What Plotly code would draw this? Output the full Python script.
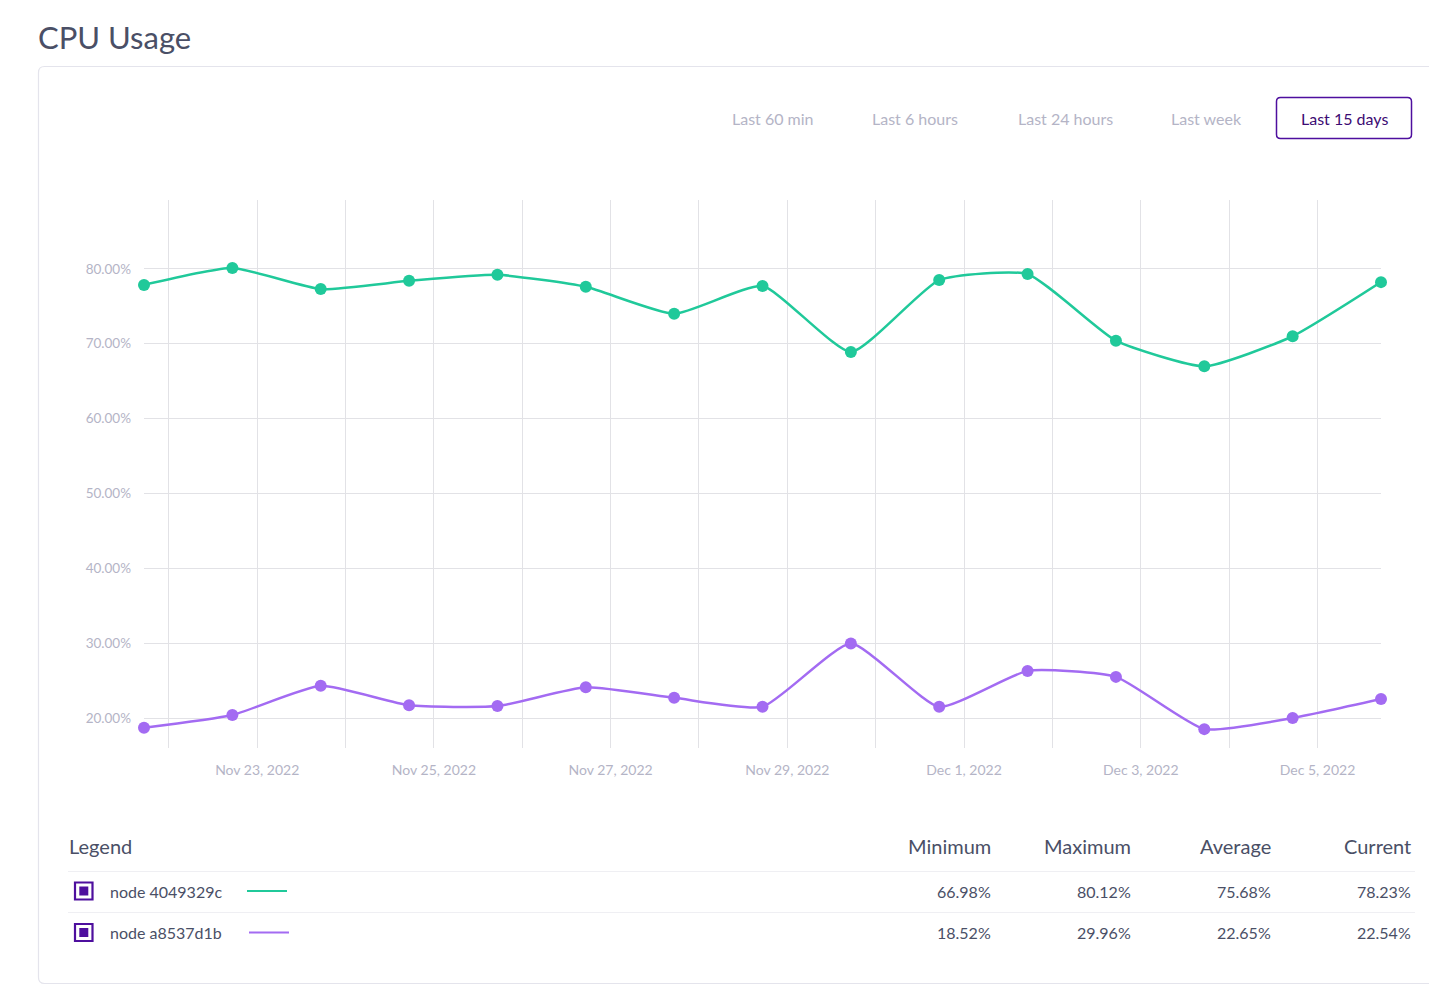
import plotly.graph_objects as go

# ---------------- data ----------------
title_text = "CPU Usage"
range_buttons = ["Last 60 min", "Last 6 hours", "Last 24 hours", "Last week", "Last 15 days"]
active_button = "Last 15 days"

dates = [
    "2022-11-21 17:15", "2022-11-22 17:15", "2022-11-23 17:15", "2022-11-24 17:15",
    "2022-11-25 17:15", "2022-11-26 17:15", "2022-11-27 17:15", "2022-11-28 17:15",
    "2022-11-29 17:15", "2022-11-30 17:15", "2022-12-01 17:15", "2022-12-02 17:15",
    "2022-12-03 17:15", "2022-12-04 17:15", "2022-12-05 17:15",
]
node1_name = "node 4049329c"
node1_values = [77.86, 80.12, 77.3, 78.4, 79.2, 77.6, 74.0, 77.7, 68.9, 78.5, 79.3, 70.4, 66.98, 71.0, 78.23]
node2_name = "node a8537d1b"
node2_values = [18.7, 20.4, 24.3, 21.7, 21.6, 24.1, 22.7, 21.5, 29.96, 21.5, 26.3, 25.5, 18.52, 20.0, 22.54]

legend_title = "Legend"
stat_headers = ["Minimum", "Maximum", "Average", "Current"]
node1_stats = ["66.98%", "80.12%", "75.68%", "78.23%"]
node2_stats = ["18.52%", "29.96%", "22.65%", "22.54%"]

# ---------------- styles ----------------
FONT = "Lato"
GREEN = "#20c99a"
PURPLE = "#a36bf2"
DARK = "#4a4f66"
LIGHT = "#b4b4c6"
DEEP_PURPLE = "#4e0f9e"
GRID = "#e2e2e6"

OFF = 8  # page body margin
W, H = 1437 - OFF, 987 - OFF
L, T = 144 - OFF, 200 - OFF
PW, PH = 1237, 548
R = W - L - PW
B = H - T - PH


def px(x):
    return (x - OFF - L) / PW


def py(y):
    return (T + PH - (y - OFF)) / PH


def P(x, y):
    return f"{px(x):.5f},{py(y):.5f}"


def rounded_rect_path(x0, y0, x1, y1, r):
    return (
        f"M {P(x0 + r, y0)} L {P(x1 - r, y0)} Q {P(x1, y0)} {P(x1, y0 + r)} "
        f"L {P(x1, y1 - r)} Q {P(x1, y1)} {P(x1 - r, y1)} "
        f"L {P(x0 + r, y1)} Q {P(x0, y1)} {P(x0, y1 - r)} "
        f"L {P(x0, y0 + r)} Q {P(x0, y0)} {P(x0 + r, y0)} Z"
    )


fig = go.Figure()
for name, vals, col in [(node1_name, node1_values, GREEN), (node2_name, node2_values, PURPLE)]:
    fig.add_trace(go.Scatter(
        x=dates, y=vals, name=name, mode="lines+markers",
        line=dict(color=col, width=2.5, shape="spline", smoothing=0.5),
        marker=dict(color=col, size=12),
        cliponaxis=False,
    ))

shapes = []
annotations = []

# card border (right edge runs off screen)
card = (
    f"M {P(1460, 66.5)} L {P(44.5, 66.5)} Q {P(38.5, 66.5)} {P(38.5, 72.5)} "
    f"L {P(38.5, 977.5)} Q {P(38.5, 983.5)} {P(44.5, 983.5)} L {P(1460, 983.5)}"
)
shapes.append(dict(type="path", xref="paper", yref="paper", path=card,
                   line=dict(color="#e4e4ec", width=1.2), layer="below"))

# title
annotations.append(dict(text=title_text, x=px(35.5), y=py(36.5), xref="paper", yref="paper",
                        xanchor="left", yanchor="middle", showarrow=False,
                        font=dict(family=FONT, size=31, color=DARK)))

# range buttons
btn_centers = [773, 915, 1065, 1206, 1344]
for lab, cx in zip(range_buttons, btn_centers):
    active = lab == active_button
    annotations.append(dict(text=lab, x=px(cx), y=py(118), xref="paper", yref="paper",
                            xanchor="center", yanchor="middle", showarrow=False,
                            font=dict(family=FONT, size=16, color="#3c0b73" if active else LIGHT)))
    if active:
        shapes.append(dict(type="path", xref="paper", yref="paper",
                           path=rounded_rect_path(1276.5, 97.5, 1411.5, 138.5, 4),
                           line=dict(color=DEEP_PURPLE, width=1.5)))

# legend table
annotations.append(dict(text=legend_title, x=px(67), y=py(845.5), xref="paper", yref="paper",
                        xanchor="left", yanchor="middle", showarrow=False,
                        font=dict(family=FONT, size=20, color=DARK)))
col_right = [993, 1133, 1273, 1413]
for hdr, cr in zip(stat_headers, col_right):
    annotations.append(dict(text=hdr, x=px(cr), y=py(845.5), xref="paper", yref="paper",
                            xanchor="right", yanchor="middle", showarrow=False,
                            font=dict(family=FONT, size=20, color=DARK)))
for sy in (871.5, 912.5):
    shapes.append(dict(type="line", xref="paper", yref="paper", x0=px(68), x1=px(1415),
                       y0=py(sy), y1=py(sy), line=dict(color="#efeff3", width=1)))

rows = [(node1_name, node1_stats, GREEN, 891, 247, 287),
        (node2_name, node2_stats, PURPLE, 932.5, 249, 289)]
for name, stats, col, ry, lx0, lx1 in rows:
    # checkbox
    shapes.append(dict(type="rect", xref="paper", yref="paper",
                       x0=px(75), x1=px(92.5), y0=py(ry - 8.5), y1=py(ry + 8.5),
                       line=dict(color=DEEP_PURPLE, width=2.2), fillcolor="white"))
    shapes.append(dict(type="rect", xref="paper", yref="paper",
                       x0=px(79.3), x1=px(88.3), y0=py(ry - 4.5), y1=py(ry + 4.5),
                       line=dict(width=0), fillcolor=DEEP_PURPLE))
    annotations.append(dict(text=name, x=px(108), y=py(ry), xref="paper", yref="paper",
                            xanchor="left", yanchor="middle", showarrow=False,
                            font=dict(family=FONT, size=16, color=DARK)))
    shapes.append(dict(type="line", xref="paper", yref="paper", x0=px(lx0), x1=px(lx1),
                       y0=py(ry), y1=py(ry), line=dict(color=col, width=2)))
    for v, cr in zip(stats, col_right):
        annotations.append(dict(text=v, x=px(cr), y=py(ry), xref="paper", yref="paper",
                                xanchor="right", yanchor="middle", showarrow=False,
                                font=dict(family=FONT, size=16, color=DARK)))

fig.update_layout(
    width=W, height=H, autosize=False,
    margin=dict(l=L, r=R, t=T, b=B),
    paper_bgcolor="white", plot_bgcolor="white",
    showlegend=False,
    font=dict(family=FONT),
    shapes=shapes, annotations=annotations,
    xaxis=dict(
        type="date", range=[dates[0], dates[-1]],
        tick0="2022-11-23", dtick=2 * 86400000, tickformat="%b %-d, %Y",
        showgrid=True, gridcolor=GRID, gridwidth=1,
        minor=dict(dtick=86400000, showgrid=True, gridcolor=GRID, gridwidth=1),
        zeroline=False, showline=False, ticks="",
        tickfont=dict(family=FONT, size=14, color=LIGHT),
        ticklabelstandoff=12,
    ),
    yaxis=dict(
        range=[16, 89.2], tick0=0, dtick=10, tickformat=".2f", ticksuffix="%",
        showgrid=True, gridcolor=GRID, gridwidth=1,
        zeroline=False, showline=False, ticks="",
        tickfont=dict(family=FONT, size=13.5, color=LIGHT),
        ticklabelstandoff=12,
    ),
)

fig.write_html("out.html")
